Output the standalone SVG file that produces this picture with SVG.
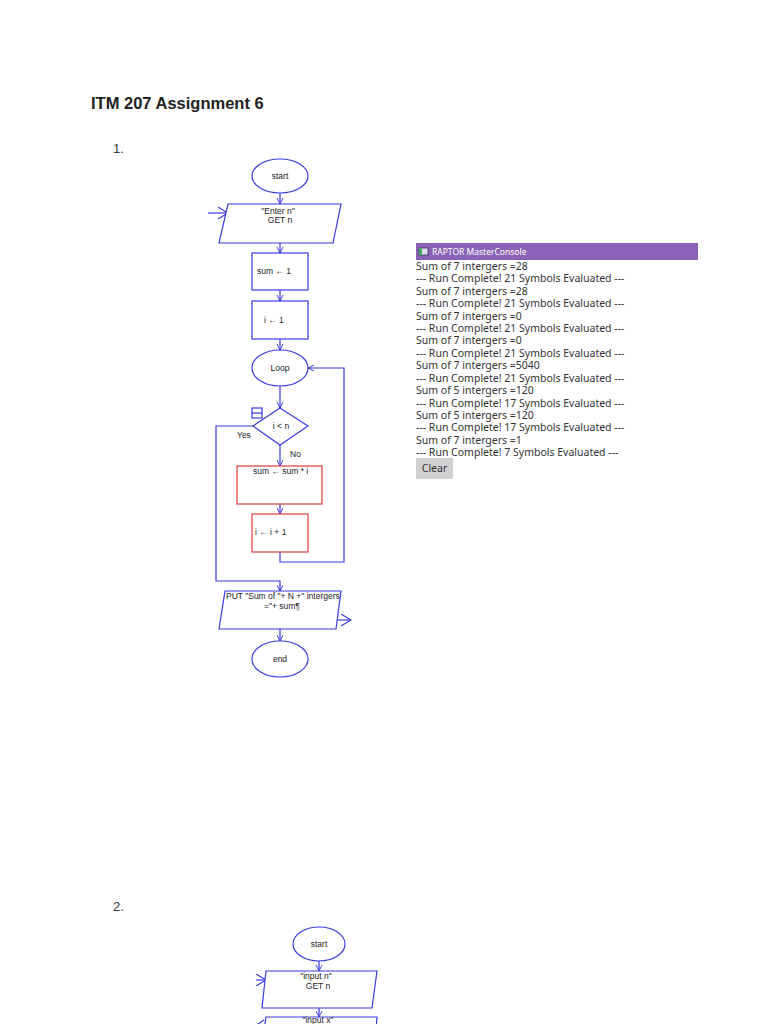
<svg xmlns="http://www.w3.org/2000/svg" width="768" height="1024" viewBox="0 0 768 1024">
<style>
.b{fill:#fff;stroke:#3a3ae0;stroke-width:1.2}
.r{fill:#fff;stroke:#e03a3a;stroke-width:1.2}
.c{fill:none;stroke:#3a3ae0;stroke-width:1.2}
.t{font-family:"Liberation Sans",Arial,sans-serif;font-size:8.5px;fill:#222}
.m{font-family:"Noto Sans","Open Sans",sans-serif;font-size:10.5px;fill:#333}
</style>
<defs><marker id="a" markerWidth="6" markerHeight="6" refX="5" refY="3" orient="auto"><path d="M0,0.5 L5,3 L0,5.5" fill="none" stroke="#3a3ae0" stroke-width="0.8"/></marker>
<marker id="o" markerWidth="12" markerHeight="12" refX="11" refY="6" orient="auto" markerUnits="userSpaceOnUse"><path d="M1,0 L11,6 L1,12" fill="none" stroke="#3a3ae0" stroke-width="1.2"/></marker></defs>
<rect width="768" height="1024" fill="#fff"/>
<text x="91" y="109" font-family="Liberation Sans,Arial,sans-serif" font-size="16.5" font-weight="bold" fill="#222">ITM 207 Assignment 6</text>
<text x="113" y="153" font-family="Liberation Sans,Arial,sans-serif" font-size="13" fill="#333">1.</text>
<g id="connectors">
<path class="c" d="M280,193V204" marker-end="url(#a)"/>
<path class="c" d="M208,213H228" marker-end="url(#o)"/>
<path class="c" d="M280,243V253" marker-end="url(#a)"/>
<path class="c" d="M280,290V301" marker-end="url(#a)"/>
<path class="c" d="M280,339V350" marker-end="url(#a)"/>
<path class="c" d="M280,386V408" marker-end="url(#a)"/>
<path class="c" d="M280,445V466" marker-end="url(#a)"/>
<path class="c" d="M280,504V514" stroke="#e03a3a" marker-end="url(#a)"/>
<path class="c" d="M280,552V562H344V368H308" marker-end="url(#a)"/>
<path class="c" d="M253,426H216V581H280V591" marker-end="url(#a)"/>
<path class="c" d="M336,620H351" marker-end="url(#o)"/>
<path class="c" d="M280,629V641" marker-end="url(#a)"/>
<path class="c" d="M319,961V971" marker-end="url(#a)"/>
<path class="c" d="M256,980H266" marker-end="url(#o)"/>
<path class="c" d="M319,1008V1017" marker-end="url(#a)"/>
<path class="c" d="M258,1024L264,1020"/>
</g>
<g id="start1"><ellipse class="b" cx="280" cy="176" rx="28" ry="17"/><text class="t" x="280" y="179" text-anchor="middle">start</text></g>
<g id="input1"><polygon class="b" points="228,204 341,204 333,243 219,243"/><text class="t" x="278" y="214" text-anchor="middle">"Enter n"</text><text class="t" x="280" y="223" text-anchor="middle">GET n</text></g>
<g id="sum1"><rect class="b" x="252" y="253" width="56" height="37"/><text class="t" x="257" y="274">sum ← 1</text></g>
<g id="i1"><rect class="b" x="252" y="301" width="56" height="38"/><text class="t" x="264" y="323">i ← 1</text></g>
<g id="loop"><ellipse class="b" cx="280" cy="368" rx="28" ry="18"/><text class="t" x="280" y="371" text-anchor="middle">Loop</text></g>
<g id="cond"><polygon class="b" points="280,408 308,426 280,445 253,426"/><rect class="b" x="252" y="408" width="10" height="10"/><path class="c" d="M252,413H262"/><text class="t" x="281" y="429" text-anchor="middle">i &lt; n</text>
<text class="t" x="237" y="438">Yes</text><text class="t" x="290" y="457">No</text></g>
<g id="mult"><rect class="r" x="237" y="466" width="85" height="38"/><text class="t" x="253" y="474">sum ← sum  *  i</text></g>
<g id="inc"><rect class="r" x="252" y="514" width="56" height="38"/><text class="t" x="255" y="535">i ← i  +  1</text></g>
<g id="output1"><polygon class="b" points="225,591 341,591 336,629 219,629"/><text class="t" x="226" y="599">PUT "Sum of "+ N +" intergers</text><text class="t" x="264" y="609">="+ sum¶</text></g>
<g id="end1"><ellipse class="b" cx="280" cy="659" rx="28" ry="18"/><text class="t" x="280" y="662" text-anchor="middle">end</text></g>
<g id="console">
<rect x="416" y="243" width="282" height="17" fill="#8a63b8"/>
<rect x="419" y="248" width="9" height="7" fill="#dde" stroke="#335" stroke-width="0.8"/>
<rect x="419" y="248" width="3" height="7" fill="#4a6"/>
<text x="432" y="255" font-family="Noto Sans,sans-serif" font-size="8.5" fill="#fff">RAPTOR MasterConsole</text>
<text class="m" x="416" y="270">Sum of 7 intergers =28</text>
<text class="m" x="416" y="282">--- Run Complete! 21 Symbols Evaluated ---</text>
<text class="m" x="416" y="295">Sum of 7 intergers =28</text>
<text class="m" x="416" y="307">--- Run Complete! 21 Symbols Evaluated ---</text>
<text class="m" x="416" y="320">Sum of 7 intergers =0</text>
<text class="m" x="416" y="332">--- Run Complete! 21 Symbols Evaluated ---</text>
<text class="m" x="416" y="344">Sum of 7 intergers =0</text>
<text class="m" x="416" y="357">--- Run Complete! 21 Symbols Evaluated ---</text>
<text class="m" x="416" y="369">Sum of 7 intergers =5040</text>
<text class="m" x="416" y="382">--- Run Complete! 21 Symbols Evaluated ---</text>
<text class="m" x="416" y="394">Sum of 5 intergers =120</text>
<text class="m" x="416" y="407">--- Run Complete! 17 Symbols Evaluated ---</text>
<text class="m" x="416" y="419">Sum of 5 intergers =120</text>
<text class="m" x="416" y="431">--- Run Complete! 17 Symbols Evaluated ---</text>
<text class="m" x="416" y="444">Sum of 7 intergers =1</text>
<text class="m" x="416" y="456">--- Run Complete! 7 Symbols Evaluated ---</text>
<rect x="416" y="458" width="37" height="21" fill="#d0d0d0"/>
<text class="m" x="434.5" y="472" text-anchor="middle">Clear</text>
</g>
<text x="113" y="911" font-family="Liberation Sans,Arial,sans-serif" font-size="13" fill="#333">2.</text>
<g id="start2"><ellipse class="b" cx="319" cy="944" rx="26" ry="17"/><text class="t" x="319" y="947" text-anchor="middle">start</text></g>
<g id="input2"><polygon class="b" points="266,971 377,971 372,1008 262,1008"/><text class="t" x="316" y="979" text-anchor="middle">"input n"</text><text class="t" x="318" y="989" text-anchor="middle">GET n</text></g>
<g id="input3"><polygon class="b" points="266,1017 377,1017 376,1030 264,1030"/><text class="t" x="318" y="1023" font-size="7" text-anchor="middle">"input x"</text></g>
</svg>
